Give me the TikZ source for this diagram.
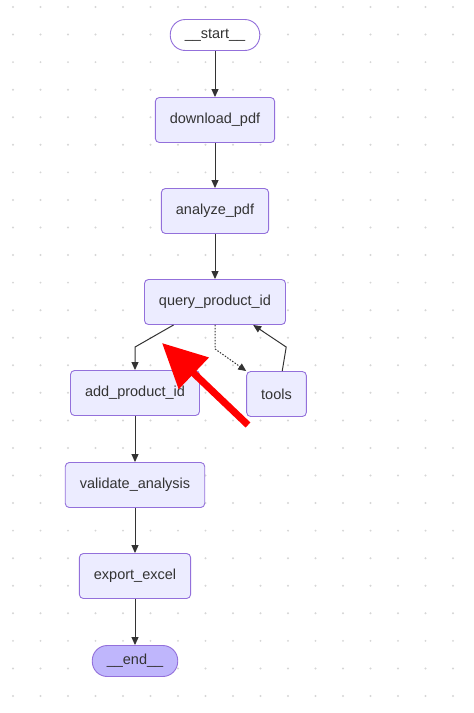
\documentclass[tikz,border=0pt]{standalone}
\usepackage{fontspec}
\setmainfont{Liberation Sans}
\usetikzlibrary{arrows.meta}
\definecolor{nodefill}{HTML}{ECECFF}
\definecolor{nodeline}{HTML}{9370DB}
\definecolor{endfill}{HTML}{BFB6FC}
\definecolor{ink}{HTML}{333333}
\definecolor{griddot}{HTML}{D6D6D6}
\tikzset{
  graphnode/.style={draw=nodeline, fill=nodefill, line width=0.9pt, rounded corners=4pt,
    minimum height=45pt, inner xsep=14.5pt, text=ink, font=\fontsize{14.5}{16}\selectfont},
  pillnode/.style={graphnode, rounded corners=15pt, minimum height=31pt},
  edge/.style={draw=ink, line width=1pt, -{Triangle[length=8pt,width=7pt]}},
  dottededge/.style={edge, dash pattern=on 1.5pt off 1.5pt}
}
\begin{document}
\begin{tikzpicture}[x=1pt,y=1pt]
\useasboundingbox (0,0) rectangle (474,-713);
\fill[white] (0,0) rectangle (474,-713);
% dotted background grid
\foreach \i in {0,...,16}
  \foreach \j in {0,...,25}
    \fill[griddot] (13+27.5*\i,-7-27.56*\j) circle (1.1);
% nodes
\node[pillnode, fill=white] (start) at (215,-35) {\_\_start\_\_};
\node[graphnode] (download) at (215,-120) {download\_pdf};
\node[graphnode] (analyze) at (215,-211) {analyze\_pdf};
\node[graphnode] (query) at (215,-302) {query\_product\_id};
\node[graphnode] (add) at (135,-393) {add\_product\_id};
\node[graphnode] (tools) at (276.5,-394) {tools};
\node[graphnode] (validate) at (135,-485) {validate\_analysis};
\node[graphnode] (export) at (135,-576) {export\_excel};
\node[pillnode, fill=endfill] (end) at (135,-661) {\_\_end\_\_};
% edges
\draw[edge] (start) -- (download);
\draw[edge] (download) -- (analyze);
\draw[edge] (analyze) -- (query);
\draw[edge] (query.209) -- ([yshift=23pt]add.north) -- (add.north);
\draw[dottededge] (query.south) -- ++(0,-24) -- (tools.north west);
\draw[edge] (tools.76) -- ++(4,24) -- (query.-31);
\draw[edge] (add) -- (validate);
\draw[edge] (validate) -- (export);
\draw[edge] (export) -- (end);
% red pointer
\coordinate (redtail) at (248,-425);
\coordinate (redtip) at (162,-343);
\draw[red, line width=7pt, -{Triangle[length=44pt,width=42pt]}] (redtail) -- (redtip);
\end{tikzpicture}
\end{document}
